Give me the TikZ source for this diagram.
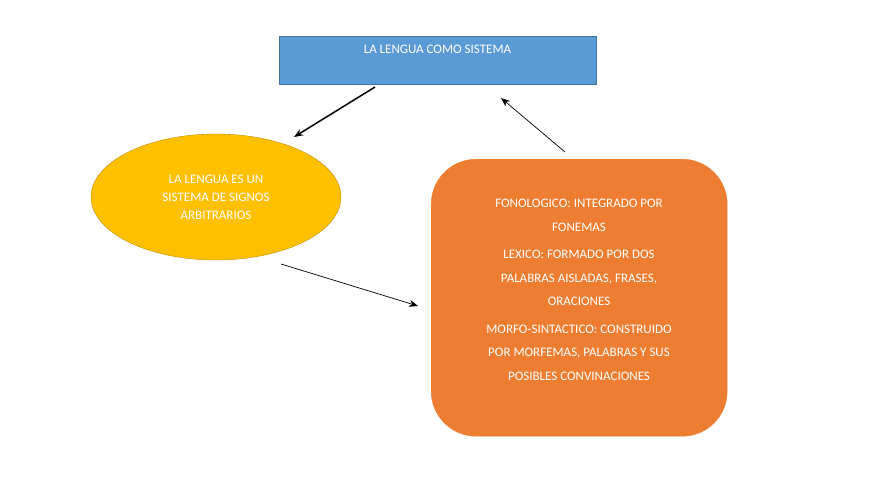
\documentclass[tikz,border=0pt]{standalone}
\usepackage{fontspec}
\setmainfont{Carlito}
\usetikzlibrary{shapes.geometric,arrows.meta}
\definecolor{bl}{HTML}{5B9BD5}
\definecolor{blb}{HTML}{41719C}
\definecolor{yl}{HTML}{FFC000}
\definecolor{ylb}{HTML}{BC8C00}
\definecolor{og}{HTML}{ED7D31}
\tikzset{txt/.style={text=white,font=\fontsize{13}{18}\selectfont,align=center},
arr/.style={-{Stealth[length=9pt,width=7pt]}}}
\begin{document}
\begin{tikzpicture}[x=1pt,y=-1pt]
\useasboundingbox (0,0) rectangle (881,491);
\node[draw=blb,fill=bl,minimum width=317pt,minimum height=48pt,anchor=north west] (top) at (279,36) {};
\node[txt,anchor=north] (tt) at (437.5,42) {LA LENGUA COMO SISTEMA};
\node[ellipse,draw=ylb,fill=yl,minimum width=250pt,minimum height=126pt,txt] (ell) at (216,197) {LA LENGUA ES UN\\SISTEMA DE SIGNOS\\ARBITRARIOS};
\node[draw=og,fill=og,rounded corners=45pt,minimum width=296pt,minimum height=277pt,anchor=north west] (box) at (431,159) {};
\node[txt,font=\fontsize{13}{23.5}\selectfont] (bt) at (579,290) {FONOLOGICO: INTEGRADO POR\\FONEMAS\\[4pt]LEXICO: FORMADO POR DOS\\PALABRAS AISLADAS, FRASES,\\ORACIONES\\[4pt]MORFO-SINTACTICO: CONSTRUIDO\\POR MORFEMAS, PALABRAS Y SUS\\POSIBLES CONVINACIONES};
\coordinate (a1) at (375,87); \coordinate (a2) at (294,137);
\coordinate (b1) at (565,152); \coordinate (b2) at (501,98);
\coordinate (c1) at (281,264); \coordinate (c2) at (418,306);
\draw[arr,line width=1.5pt] (a1) -- (a2);
\draw[arr,line width=0.7pt] (b1) -- (b2);
\draw[arr,line width=0.7pt] (c1) -- (c2);
\end{tikzpicture}
\end{document}
